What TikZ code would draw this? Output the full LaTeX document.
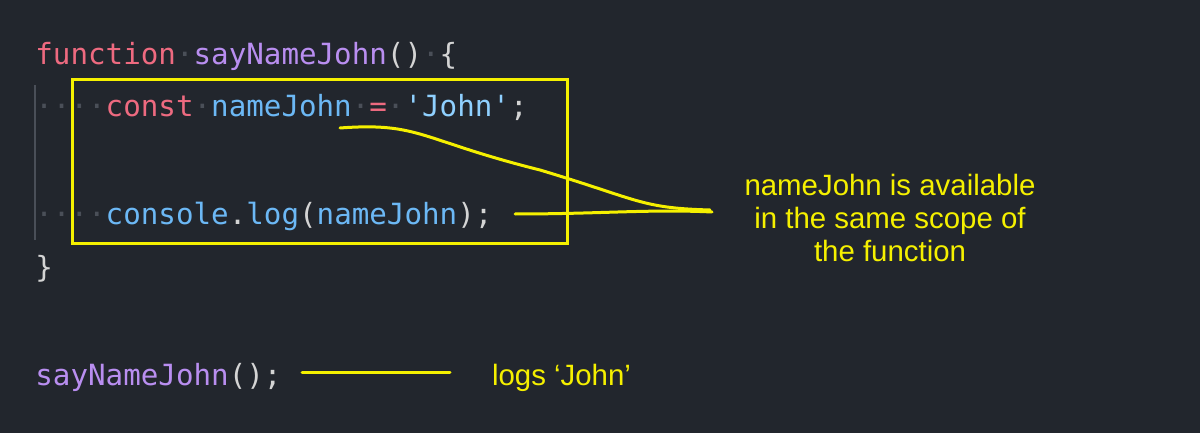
\documentclass[tikz,border=0pt]{standalone}
\usepackage{fontspec}
\setmainfont{Liberation Sans}
\newfontfamily\codefont{DejaVu Sans Mono}
\definecolor{bg}{HTML}{22262D}
\definecolor{kw}{HTML}{EE6A80}
\definecolor{fn}{HTML}{B98EF0}
\definecolor{vr}{HTML}{6CB8F5}
\definecolor{st}{HTML}{8FD0FF}
\definecolor{pl}{HTML}{D4D4D4}
\definecolor{gd}{HTML}{4A4F58}
\definecolor{yl}{HTML}{F5F000}
\begin{document}
\begin{tikzpicture}[x=0.5pt,y=-0.5pt,
  code/.style={anchor=base west,inner sep=0pt,font=\codefont\fontsize{14.6}{17}\selectfont},
  note/.style={text=yl,font=\fontsize{14.7}{16.5}\selectfont,align=center},
  hl/.style={draw=yl,line width=1.5pt,line cap=round}]
\fill[bg] (0,0) rectangle (1200,433);
\useasboundingbox (0,0) rectangle (1200,433);
\draw[gd,line width=0.8pt] (35,85) -- (35,240);
\node[code] (l1) at (35,65) {\textcolor{kw}{function}\textcolor{gd}{·}\textcolor{fn}{sayNameJohn}\textcolor{pl}{()}\textcolor{gd}{·}\textcolor{pl}{\{}};
\node[code] (l2) at (35,117) {\textcolor{gd}{····}\textcolor{kw}{const}\textcolor{gd}{·}\textcolor{vr}{nameJohn}\textcolor{gd}{·}\textcolor{kw}{=}\textcolor{gd}{·}\textcolor{st}{'John'}\textcolor{pl}{;}};
\node[code] (l4) at (35,225) {\textcolor{gd}{····}\textcolor{vr}{console}\textcolor{pl}{.}\textcolor{vr}{log}\textcolor{pl}{(}\textcolor{vr}{nameJohn}\textcolor{pl}{);}};
\node[code] (l5) at (35,278) {\textcolor{pl}{\}}};
\node[code] (l6) at (35,385) {\textcolor{fn}{sayNameJohn}\textcolor{pl}{();}};
\node[hl,minimum width=247.5pt,minimum height=81.5pt,inner sep=0pt] (box) at (319.5,161.5) {};
\node[note] (n1) at (890,218) {nameJohn is available\\in the same scope of\\the function};
\node[note,anchor=base west] (n2) at (485,385) {logs ‘John’};
\coordinate (a1) at (340,128);
\coordinate (a2) at (710,210);
\coordinate (b1) at (515,214);
\coordinate (b2) at (712,212);
\coordinate (c1) at (302,372);
\coordinate (c2) at (450,372);
\draw[hl] (a1) .. controls (420,122) and (420,140) .. (540,170) .. controls (640,200) and (640,208) .. (a2);
\draw[hl] (b1) .. controls (600,214) and (650,209) .. (b2);
\draw[hl] (c1) -- (c2);
\end{tikzpicture}
\end{document}
